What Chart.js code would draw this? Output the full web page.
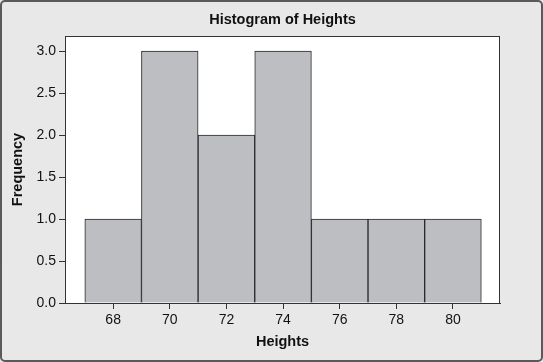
<!DOCTYPE html>
<html>
<head>
<meta charset="utf-8">
<script src="https://cdn.jsdelivr.net/npm/chart.js@4/dist/chart.umd.min.js"></script>
<style>
  html, body { margin: 0; padding: 0; background: #e8e8e8; }
  #wrap { width: 543px; height: 362px; }
</style>
</head>
<body>
<div id="wrap"><canvas id="myChart" width="543" height="362"></canvas></div>
<script>
// Chart data
const chartTitle = 'Histogram of Heights';
const binCenters = [68, 70, 72, 74, 76, 78, 80];
const frequencies = [1, 3, 2, 3, 1, 1, 1];
const xTickValues = [68, 70, 72, 74, 76, 78, 80];
const yTickValues = [0, 0.5, 1, 1.5, 2, 2.5, 3];

const FONT = "'Liberation Sans', Arial, Helvetica, sans-serif";
const INK = '#111111';

// Frame plugin: grey page, rounded outer border, white plot box,
// and the title centred over the plot box (the built-in title centres over the canvas)
const framePlugin = {
    id: 'frame',
    beforeDraw(chart) {
        let ctx = chart.ctx;
        let area = chart.chartArea;
        ctx.save();
        ctx.fillStyle = '#e8e8e8';
        ctx.fillRect(0, 0, chart.width, chart.height);
        ctx.strokeStyle = '#5a5a5a';
        ctx.lineWidth = 2;
        ctx.beginPath();
        ctx.roundRect(1, 1, chart.width - 2, chart.height - 2, 4);
        ctx.stroke();
        ctx.fillStyle = '#ffffff';
        ctx.fillRect(area.left, area.top, area.right - area.left, area.bottom - area.top);
        ctx.restore();
    },
    afterDraw(chart) {
        let ctx = chart.ctx;
        let area = chart.chartArea;
        ctx.save();
        ctx.strokeStyle = '#333333';
        ctx.lineWidth = 1;
        ctx.strokeRect(area.left + 0.5, area.top + 0.5, area.right - area.left - 1, area.bottom - area.top);
        ctx.fillStyle = INK;
        ctx.font = 'bold 14.5px ' + FONT;
        ctx.textAlign = 'center';
        ctx.textBaseline = 'middle';
        ctx.fillText(chartTitle, (area.left + area.right) / 2, 20);
        ctx.restore();
    }
};

function keepTicks(values) {
    return function (scale) {
        scale.ticks = values.map((v) => ({ value: v }));
    };
}

let ctx = document.getElementById('myChart').getContext('2d');
let chart = new Chart(ctx, {
    type: 'bar',
    data: {
        datasets: [{
            label: 'Heights',
            data: binCenters.map((c, i) => ({ x: c, y: frequencies[i] })),
            backgroundColor: '#bdbec2',
            borderColor: '#2a2a2a',
            borderWidth: 1,
            barPercentage: 1,
            categoryPercentage: 1
        }]
    },
    options: {
        responsive: false,
        animation: false,
        layout: { padding: { left: 0, right: 43, top: 36, bottom: 0 } },
        plugins: {
            legend: { display: false },
            tooltip: { enabled: false },
            title: { display: false }
        },
        scales: {
            x: {
                type: 'linear',
                offset: false,
                min: 66.3,
                max: 81.66,
                afterFit: (scale) => { scale.height = 59; },
                afterBuildTicks: keepTicks(xTickValues),
                grid: { drawOnChartArea: false, offset: false, tickLength: 6, color: '#333333' },
                border: { color: '#333333', width: 1 },
                ticks: {
                    color: INK,
                    padding: 3,
                    font: { family: FONT, size: 14 },
                    callback: (v) => String(v)
                },
                title: {
                    display: true,
                    text: 'Heights',
                    color: INK,
                    font: { family: FONT, size: 14.5, weight: 'bold' },
                    padding: { top: 0, bottom: 11.3 }
                }
            },
            y: {
                min: 0,
                max: 3.18,
                afterFit: (scale) => { scale.width = 65; },
                afterBuildTicks: keepTicks(yTickValues),
                grid: { drawOnChartArea: false, tickLength: 6, color: '#333333' },
                border: { color: '#333333', width: 1 },
                ticks: {
                    color: INK,
                    padding: 3,
                    font: { family: FONT, size: 14 },
                    callback: (v) => Number(v).toFixed(1)
                },
                title: {
                    display: true,
                    text: 'Frequency',
                    color: INK,
                    font: { family: FONT, size: 14.5, weight: 'bold' },
                    padding: { top: 9.3, bottom: 0 }
                }
            }
        }
    },
    plugins: [framePlugin]
});
</script>
</body>
</html>
